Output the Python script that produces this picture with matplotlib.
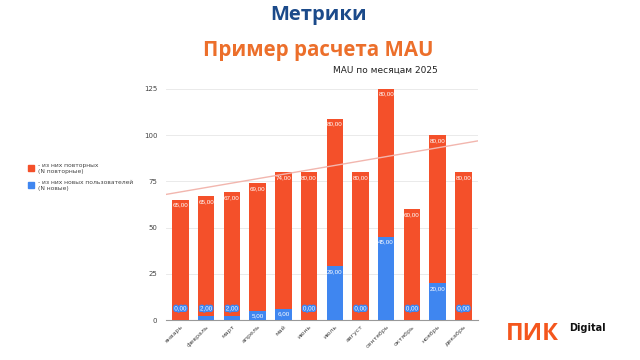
import matplotlib
matplotlib.use("Agg")
import matplotlib.pyplot as plt
import matplotlib.patheffects as pe
import numpy as np

months = ["январь", "февраль", "март", "апрель", "май", "июнь",
          "июль", "август", "сентябрь", "октябрь", "ноябрь", "декабрь"]
new_users = [0, 2, 2, 5, 6, 0, 29, 0, 45, 0, 20, 0]
repeat_users = [65, 65, 67, 69, 74, 80, 80, 80, 80, 60, 80, 80]
yticks = [0, 25, 50, 75, 100, 125]

orange = "#F4502A"
blue = "#3F86F0"

fig = plt.figure(figsize=(6.4, 3.6), dpi=100)
fig.patch.set_facecolor("white")

ax = fig.add_axes([0.259, 0.111, 0.488, 0.642])
x = np.arange(len(months))
new = np.array(new_users)
rep = np.array(repeat_users)
total = new + rep

ax.bar(x, new, width=0.64, color=blue, zorder=3)
ax.bar(x, rep, bottom=new, width=0.64, color=orange, zorder=3)

# linear trend on totals
k, b = np.polyfit(x, total, 1)
xl = np.array([-0.57, 11.57])
ax.plot(xl, k * xl + b, color="#F2B6AE", lw=1.0, zorder=4)

def fmt(v):
    return f"{v:.2f}".replace(".", ",")

lab_font = "Liberation Sans"
for i in range(len(months)):
    ax.text(x[i], total[i] - 1.5, fmt(rep[i]), ha="center", va="top",
            fontsize=4.5, color="white", zorder=5, family=lab_font)
    if new[i] < 4:
        ax.text(x[i], 6, fmt(new[i]), ha="center", va="center",
                fontsize=4.5, color="white", zorder=5, family=lab_font,
                path_effects=[pe.withStroke(linewidth=2.2, foreground=blue)])
    else:
        ax.text(x[i], new[i] - 1.5, fmt(new[i]), ha="center", va="top",
                fontsize=4.5, color="white", zorder=5, family=lab_font)

ax.set_xlim(-0.57, 11.57)
ax.set_ylim(0, 125)
ax.set_yticks(yticks)
ax.set_xticks(x)
ax.set_xticklabels(months, rotation=45, ha="right", rotation_mode="anchor",
                   fontsize=4.5, color="#444444")
ax.tick_params(axis="y", labelsize=5, colors="#444444", length=0, pad=6)
ax.tick_params(axis="x", length=0, pad=3)
ax.grid(axis="y", color="#E6E6E6", lw=0.6, zorder=0)
for s in ["top", "right", "left"]:
    ax.spines[s].set_visible(False)
ax.spines["bottom"].set_color("#999999")
ax.spines["bottom"].set_linewidth(0.8)

# titles
fig.text(0.497, 0.958, "Метрики", ha="center", va="center", fontsize=14.5,
         fontweight="bold", color="#1B4A8A", family="Open Sans")
fig.text(0.497, 0.86, "Пример расчета MAU", ha="center", va="center", fontsize=14.8,
         fontweight="bold", color="#EC6F2B", family="Open Sans")
fig.text(0.602, 0.805, "MAU по месяцам 2025", ha="center", va="center",
         fontsize=6.5, color="#222222")

# legend
fig.add_artist(plt.Rectangle((0.044, 0.525), 0.0095, 0.017, color=orange,
                             transform=fig.transFigure))
fig.add_artist(plt.Rectangle((0.044, 0.478), 0.0095, 0.017, color=blue,
                             transform=fig.transFigure))
fig.text(0.059, 0.546, "- из них повторных\n(N повторные)", ha="left", va="top",
         fontsize=4.3, color="#444444", linespacing=1.2)
fig.text(0.059, 0.499, "- из них новых пользователей\n(N новые)", ha="left", va="top",
         fontsize=4.3, color="#444444", linespacing=1.2)

# logo
fig.text(0.79, 0.072, "ПИК", ha="left", va="center", fontsize=17,
         fontweight="bold", color="#F4561D", family="Open Sans")
fig.text(0.889, 0.09, "Digital", ha="left", va="center", fontsize=7,
         fontweight="bold", color="#111111")

fig.savefig("out.png", dpi=100, facecolor="white")
